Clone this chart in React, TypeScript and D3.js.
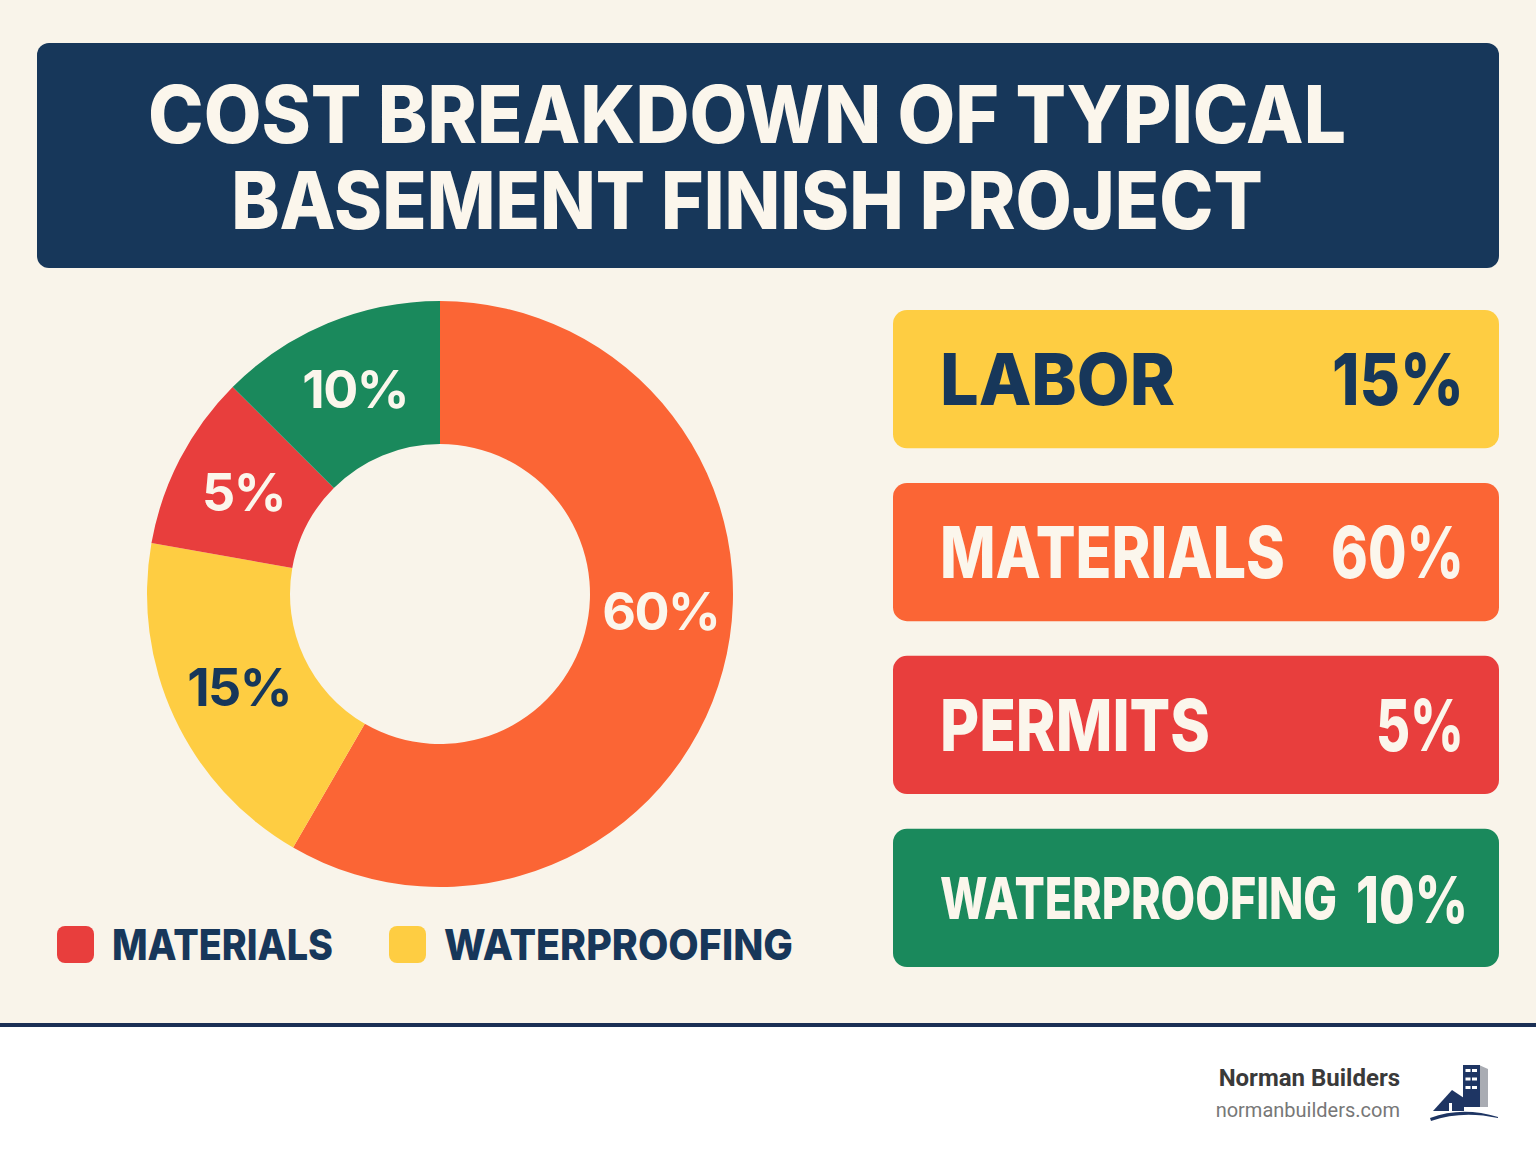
import React from 'react';
import * as d3 from 'd3';

// palette
const NAVY = '#17375a';
const CREAM = '#f9f4ea';
const TEXT_LIGHT = '#fbf6ec';
const ORANGE = '#fb6535';
const YELLOW = '#fecd42';
const RED = '#e83e3d';
const GREEN = '#1a895c';

// donut slices (clockwise from 12 o'clock)
const sliceLabels = ['60%', '15%', '5%', '10%'];
const sliceShares = [58.3, 19.4, 9.7, 12.5]; // angular share as drawn
const sliceColors = [ORANGE, YELLOW, RED, GREEN];
const sliceTextColors = [TEXT_LIGHT, NAVY, TEXT_LIGHT, TEXT_LIGHT];

// cards on the right
const cardNames = ['LABOR', 'MATERIALS', 'PERMITS', 'WATERPROOFING'];
const cardValues = ['15%', '60%', '5%', '10%'];
const cardColors = [YELLOW, ORANGE, RED, GREEN];
const cardTextColors = [NAVY, TEXT_LIGHT, TEXT_LIGHT, TEXT_LIGHT];

// legend under the donut
const legendNames = ['MATERIALS', 'WATERPROOFING'];
const legendColors = [RED, YELLOW];

const titleLines = ['COST BREAKDOWN OF TYPICAL', 'BASEMENT FINISH PROJECT'];

const W = 1536;
const H = 1154;
const FONT = "Inter, 'Open Sans', sans-serif";

// rendered widths of the headline texts (the source face is narrower than Inter)
const nameWidths: Record<string, number> = { LABOR: 235, MATERIALS: 345, PERMITS: 270, WATERPROOFING: 397 };
const valueWidths: Record<string, number> = { '15%': 132, '60%': 133, '5%': 88, '10%': 112 };
const legendWidths: Record<string, number> = { MATERIALS: 221, WATERPROOFING: 349 };
const titleWidths = [1198, 1032];

// horizontal squeeze so a text in Inter spans the width seen in the picture
const ctx = typeof document !== 'undefined' ? document.createElement('canvas').getContext('2d') : null;
const squeeze = (txt: string, size: number, weight: number, target: number) => {
  if (!ctx) return 1;
  ctx.font = `${weight} ${size}px Inter`;
  const w = ctx.measureText(txt).width;
  return w > 0 ? target / w : 1;
};

type FitProps = {
  x: number;
  y: number;
  text: string;
  size: number;
  weight: number;
  width: number;
  fill: string;
  anchor?: 'start' | 'middle' | 'end';
  dy?: string;
};

const FitText = ({ x, y, text, size, weight, width, fill, anchor = 'start', dy = '0' }: FitProps) => {
  const s = squeeze(text, size, weight, width);
  return (
    <text
      transform={`translate(${x},${y}) scale(${s},1)`}
      dy={dy}
      textAnchor={anchor}
      fontFamily={FONT}
      fontWeight={weight}
      fontSize={size}
      fill={fill}
    >
      {text}
    </text>
  );
};

const Donut = () => {
  const cx = 440;
  const cy = 594;
  const pie = d3.pie<number>().sort(null).value(d => d);
  const arcs = pie(sliceShares);
  const arc = d3.arc<d3.PieArcDatum<number>>().innerRadius(150).outerRadius(293);
  // the big slice label sits a little above its mid angle
  const labelBias = [0.45, 0.5, 0.5, 0.5];

  return (
    <g transform={`translate(${cx},${cy})`}>
      {arcs.map((a, i) => (
        <path key={i} d={arc(a) || ''} fill={sliceColors[i]} />
      ))}
      {arcs.map((a, i) => {
        const ang = a.startAngle + (a.endAngle - a.startAngle) * labelBias[i];
        const [x, y] = arc.centroid({ ...a, startAngle: ang, endAngle: ang });
        return (
          <text
            key={'t' + i}
            x={x}
            y={y}
            dy="0.36em"
            textAnchor="middle"
            fontFamily={FONT}
            fontWeight={700}
            fontSize={52}
            letterSpacing={-1.5}
            fill={sliceTextColors[i]}
          >
            {sliceLabels[i]}
          </text>
        );
      })}
    </g>
  );
};

const Cards = () => {
  const y = d3.scaleBand<string>().domain(cardNames).range([310, 967]).paddingInner(0.2);
  const x0 = 893;
  const x1 = 1499;
  return (
    <g>
      {cardNames.map((name, i) => {
        const top = y(name) || 0;
        const mid = top + y.bandwidth() / 2;
        const long = name.length > 10;
        const val = cardValues[i];
        return (
          <g key={name}>
            <rect x={x0} y={top} width={x1 - x0} height={y.bandwidth()} rx={14} fill={cardColors[i]} />
            <FitText
              x={940}
              y={mid}
              dy="0.36em"
              text={name}
              size={long ? 58 : 72}
              weight={800}
              width={nameWidths[name]}
              fill={cardTextColors[i]}
            />
            <FitText
              x={long ? 1468 : 1464}
              y={mid}
              dy={long ? '0.4em' : '0.36em'}
              anchor="end"
              text={val}
              size={long ? 64 : 72}
              weight={800}
              width={valueWidths[val]}
              fill={cardTextColors[i]}
            />
          </g>
        );
      })}
    </g>
  );
};

const Legend = () => {
  const x = d3.scalePoint<string>().domain(legendNames).range([57, 389]);
  return (
    <g>
      {legendNames.map((name, i) => {
        const lx = x(name) || 0;
        return (
          <g key={name}>
            <rect x={lx} y={926} width={37} height={37} rx={8} fill={legendColors[i]} />
            <FitText
              x={lx + 55}
              y={944.5}
              dy="0.36em"
              text={name}
              size={43}
              weight={800}
              width={legendWidths[name]}
              fill={NAVY}
            />
          </g>
        );
      })}
    </g>
  );
};

const Footer = () => (
  <g>
    <rect x={0} y={1026} width={W} height={H - 1026} fill="#ffffff" />
    <rect x={0} y={1023} width={W} height={4} fill="#1b2f55" />
    <text x={1400} y={1086} textAnchor="end" fontFamily="Roboto, sans-serif" fontWeight={700} fontSize={24} fill="#3a3a3a">
      Norman Builders
    </text>
    <text x={1400} y={1117} textAnchor="end" fontFamily="Roboto, sans-serif" fontSize={20} fill="#777777">
      normanbuilders.com
    </text>
    {/* logo */}
    <g>
      <polygon points="1479,1065 1488,1069 1488,1107 1479,1107" fill="#a9acb3" />
      <rect x={1463} y={1065} width={17} height={42} fill="#1e3563" />
      {[0, 1, 2].map(r =>
        [0, 1].map(c => (
          <rect key={`${r}-${c}`} x={1465.5 + c * 6.5} y={1069 + r * 8.5} width={5} height={3} fill="#ffffff" />
        ))
      )}
      <polygon points="1433,1111 1452,1090 1464,1098 1464,1111" fill="#1e3563" />
      <rect x={1449} y={1103} width={3} height={8} fill="#ffffff" />
      <path d="M1430,1118 Q1462,1106 1498,1117 L1498,1118 Q1462,1110 1431,1121 Z" fill="#1e3563" />
    </g>
  </g>
);

export default function App() {
  return (
    <svg
      width={W}
      height={H}
      viewBox={`0 0 ${W} ${H}`}
      style={{ position: 'absolute', left: 0, top: 0, display: 'block' }}
    >
      <rect width={W} height={H} fill={CREAM} />
      <rect x={37} y={43} width={1462} height={225} rx={12} fill={NAVY} />
      {/* two tightly set lines, as in the source; their glyphs do not touch */}
      {titleLines.map((line, i) => (
        <FitText
          key={line}
          x={747}
          y={143 + i * 86}
          anchor="middle"
          text={line}
          size={80}
          weight={800}
          width={titleWidths[i]}
          fill={TEXT_LIGHT}
        />
      ))}
      <Donut />
      <Legend />
      <Cards />
      <Footer />
    </svg>
  );
}
